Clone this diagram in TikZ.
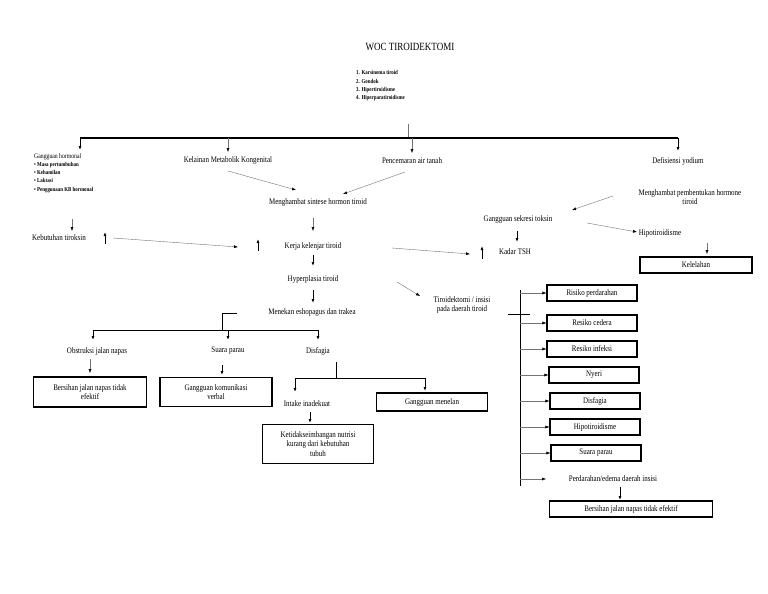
\documentclass[tikz,border=0pt]{standalone}
\usepackage{fontspec}
\setmainfont{Liberation Serif}[FakeStretch=0.82]
\usetikzlibrary{arrows.meta}
\begin{document}
\begin{tikzpicture}[x=1pt,y=-1pt,
  t/.style={inner sep=1pt,font=\fontsize{8.5}{9.5}\selectfont,align=center},
  tl/.style={t,anchor=west,align=left},
  sm/.style={inner sep=1pt,font=\fontsize{6}{8.3}\selectfont\bfseries,anchor=west,align=left},
  bx/.style={t,draw,line width=1.1pt,minimum height=16pt},
  thin/.style={draw=black!55,line width=0.4pt,-{Latex[length=4pt,width=3pt,color=black]}},
  thk/.style={draw,line width=0.9pt,-{Latex[length=4pt,width=3pt]}},
  ln/.style={draw,line width=0.9pt}]
\useasboundingbox (0,0) rectangle (768,594);
\node[t,font=\fontsize{11}{12}\selectfont] (title) at (410,47) {WOC TIROIDEKTOMI};
\node[sm] (list) at (355,86) {1. Karsinoma tiroid\\2. Gondok\\3. Hipertiroidisme\\4. Hiperparatiroidisme};
\coordinate (c0) at (408,124);
\coordinate (c1) at (408,138);
\draw[draw=black!55,line width=0.4pt] (c0) -- (c1);
\coordinate (bl) at (80,138); \coordinate (br) at (678,138);
\draw[line width=1.2pt] (bl) -- (br);
\node[tl,anchor=north west,font=\fontsize{7}{8}\selectfont] (gh) at (33,152) {Gangguan hormonal};
\node[sm,anchor=north west] (ghl) at (33,161) {• Masa pertumbuhan\\• Kehamilan\\• Laktasi\\• Penggunaan KB hormonal};
\node[t] (kmk) at (228,160) {Kelainan Metabolik Kongenital};
\node[t] (pat) at (412,161) {Pencemaran air tanah};
\node[t] (dy) at (678,161) {Defisiensi yodium};
\coordinate (a1) at (80,138); \coordinate (a2) at (228,138); \coordinate (a3) at (412,138);
\draw[thk] (a1) -- (80,150);
\draw[thin] (a2) -- (228,152);
\draw[thin] (a3) -- (412,153);
\draw[thk] (br) -- (678,151);
\node[t] (mst) at (318,202) {Menghambat sintese hormon tiroid};
\draw[thin] (228,171) -- (296,190);
\draw[thin] (405,172) -- (343,194);
\node[t] (mph) at (690,197) {Menghambat pembentukan hormone\\tiroid};
\node[t] (gst) at (518,219) {Gangguan sekresi toksin};
\draw[thin] (613,196) -- (572,210);
\draw[thin] (587,223) -- (637,232);
\node[t] (hipo) at (660,233) {Hipotiroidisme};
\draw[thin] (707,243) -- (707,254);
\node[bx,minimum width=112pt] (kel) at (696,265) {Kelelahan};
\node[tl] (kt) at (31,238) {Kebutuhan tiroksin};
\draw[thin] (72,219) -- (72,231);
\draw[thk] (105,244) -- (105,232);
\node[t] (kjt) at (313,246) {Kerja kelenjar tiroid};
\draw[thin] (113,238) -- (238,247);
\draw[thk] (258,251) -- (258,239);
\draw[thin] (313,218) -- (313,231);
\node[t] (tsh) at (515,252) {Kadar TSH};
\draw[thin] (392,248) -- (470,254);
\draw[thk] (482,259) -- (482,246);
\draw[thk] (517,231) -- (517,242);
\draw[thk] (313,255) -- (313,266);
\node[t] (hyp) at (313,279) {Hyperplasia tiroid};
\draw[thk] (313,290) -- (313,303);
\node[t] (met) at (312,312) {Menekan eshopagus dan trakea};
\draw[ln] (237,313) -- (222,313) -- (222,330);
\draw[ln] (93,330) -- (318,330);
\draw[thk] (93,330) -- (93,340);
\draw[thk] (228,330) -- (228,340);
\draw[thk] (318,330) -- (318,340);
\node[t] (ojn) at (97,351) {Obstruksi jalan napas};
\node[t] (sp) at (228,351) {Suara parau};
\node[t] (dis) at (318,351) {Disfagia};
\draw[thin] (90,359) -- (90,373);
\draw[thk] (222,365) -- (222,375);
\node[bx,minimum width=113pt,minimum height=30pt] (b1) at (90,392) {Bersihan jalan napas tidak\\efektif};
\node[bx,minimum width=112pt,minimum height=29pt] (b2) at (216,392) {Gangguan komunikasi\\verbal};
\draw[ln] (336,362) -- (336,378);
\draw[ln] (295,378) -- (425,378);
\draw[thk] (295,378) -- (295,392);
\draw[thk] (425,378) -- (425,391);
\node[t] (ii) at (307,404) {Intake inadekuat};
\node[bx,minimum width=111pt,minimum height=18pt] (gm) at (432,402) {Gangguan menelan};
\draw[thk] (310,412) -- (310,423);
\node[bx,minimum width=111pt,minimum height=39pt] (kn) at (318,444) {Ketidakseimbangan nutrisi\\kurang dari kebutuhan\\tubuh};
\draw[thin] (397,282) -- (420,296);
\node[t] (ti) at (462,305) {Tiroidektomi / insisi\\pada daerah tiroid};
\draw[ln] (508,314) -- (530,314);
\draw[line width=0.9pt] (520,290) -- (520,486);
\foreach \y/\xx/\lab/\nm in {293/592/Risiko perdarahan/r1, 323/592/Resiko cedera/r2, 349/592/Resiko infeksi/r3, 375/594/Nyeri/r4, 401/595/Disfagia/r5, 427/595/Hipotiroidisme/r6, 453/596/Suara parau/r7}{
  \node[bx,minimum width=90pt] (\nm) at (\xx,\y) {\lab};
  \draw[thin] (520,\y) -- (\nm.west);
}
\node[t] (pe) at (613,479) {Perdarahan/edema daerah insisi};
\draw[thin] (520,479) -- (546,479);
\draw[thk] (620,487) -- (620,500);
\node[bx,minimum width=163pt] (b3) at (631,509) {Bersihan jalan napas tidak efektif};
\end{tikzpicture}
\end{document}
